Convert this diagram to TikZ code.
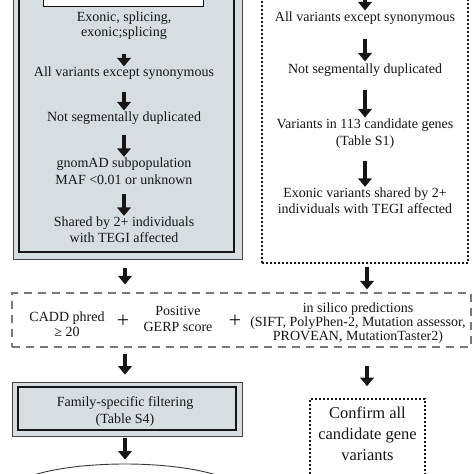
\documentclass[tikz,border=0pt]{standalone}
\usepackage{fontspec}
\setmainfont{Liberation Serif}
\usetikzlibrary{arrows.meta,shapes.geometric}
\definecolor{boxgrey}{RGB}{214,222,226}
\definecolor{ink}{RGB}{22,22,22}
\definecolor{dashgrey}{RGB}{120,120,120}
\tikzset{
  txt/.style={inner sep=0pt, align=center, text=ink, font=\fontsize{14}{16}\selectfont},
  txttight/.style={txt, font=\fontsize{14}{14}\selectfont},
  bigtxt/.style={inner sep=0pt, align=center, text=ink, font=\fontsize{16.5}{21}\selectfont},
  plussign/.style={inner sep=0pt, text=ink, font=\fontsize{22}{22}\selectfont},
  arr/.style={line width=4pt, draw=ink, -{Triangle[width=13.5pt,length=8.5pt]}},
  outerbox/.style={draw=ink!80, line width=0.8pt, fill=boxgrey, inner sep=0pt},
  innerbox/.style={draw=ink, line width=1.6pt, inner sep=0pt},
  whitebox/.style={draw=ink, line width=0.9pt, fill=white, inner sep=0pt},
  dottedbox/.style={draw=ink, line width=1.7pt, dash pattern=on 1.8pt off 2.2pt, inner sep=0pt},
  dashedbox/.style={draw=dashgrey, line width=1.2pt, dash pattern=on 8pt off 6pt, inner sep=0pt},
  ellipsebox/.style={ellipse, draw=ink!85, line width=0.9pt, inner sep=0pt},
}
\begin{document}
\begin{tikzpicture}[x=1pt,y=-1pt]
\useasboundingbox (0,0) rectangle (474,474);
\fill[white] (0,0) rectangle (474,474);
% left grey box
\node[outerbox, minimum width=229pt, minimum height=279pt] (LBout) at (127.5,119.5) {};
\node[innerbox, minimum width=215pt, minimum height=272pt] (LBin) at (126.5,116) {};
\node[whitebox, minimum width=160pt, minimum height=26pt] (WB) at (123,-7) {};
% right dotted box
\node[dottedbox, minimum width=206pt, minimum height=283pt] (RB) at (365,121.5) {};
% dashed box
\node[dashedbox, minimum width=459pt, minimum height=54pt] (DB) at (241.5,320) {};
% family box
\node[outerbox, minimum width=230pt, minimum height=54pt] (FBout) at (127,409) {};
\node[innerbox, minimum width=218pt, minimum height=43pt] (FBin) at (127,408.5) {};
% confirm box
\node[dottedbox, minimum width=115pt, minimum height=101pt] (CB) at (367.5,449.5) {};
% ellipse
\node[ellipsebox, minimum width=236pt, minimum height=60pt] (EL) at (125,494) {};

% left column texts
\node[txt, font=\fontsize{14}{15}\selectfont] (L1) at (124,25.5) {Exonic, splicing,\\exonic;splicing};
\node[txt] (L2) at (124,73) {All variants except synonymous};
\node[txt] (L3) at (124,118) {Not segmentally duplicated};
\node[txt, font=\fontsize{14}{17}\selectfont] (L4) at (124,171.5) {gnomAD subpopulation\\MAF <0.01 or unknown};
\node[txt] (L5) at (124,230) {Shared by 2+ individuals\\with TEGI affected};

\draw[arr, shorten <=14pt] (L1) -- (L2);
\draw[arr, shorten <=12pt, shorten >=1pt] (L2) -- (L3);
\draw[arr, shorten <=10pt, shorten >=1pt] (L3) -- (L4);
\draw[arr, shorten <=9pt, shorten >=1pt] (L4) -- (L5);

% right column texts
\coordinate (RT) at (365,-12);
\node[txt] (R1) at (365,18) {All variants except synonymous};
\node[txt] (R2) at (365,70) {Not segmentally duplicated};
\node[txt, font=\fontsize{14}{17}\selectfont] (R3) at (365,133.5) {Variants in 113 candidate genes\\(Table S1)};
\node[txt] (R4) at (365,201) {Exonic variants shared by 2+\\individuals with TEGI affected};

\draw[arr, shorten >=1pt] (RT) -- (R1);
\draw[arr, shorten <=14pt, shorten >=2pt] (R1) -- (R2);
\draw[arr, shorten <=13pt, shorten >=1pt] (R2) -- (R3);
\draw[arr, shorten <=12pt, shorten >=1pt] (R3) -- (R4);

% dashed box contents
\node[txt, font=\fontsize{14}{15.5}\selectfont] (C1) at (67,324) {CADD phred\\≥ 20};
\node[plussign] (P1) at (123,321) {+};
\node[txt] (C2) at (178,318.5) {Positive\\GERP score};
\node[plussign] (P2) at (235,321) {+};
\node[txttight] (C3) at (358,323) {in silico predictions\\(SIFT, PolyPhen-2, Mutation assessor,\\PROVEAN, MutationTaster2)};

% arrows between boxes
\draw[arr, shorten <=9pt, shorten >=8pt] (LBout.south -| 125,0) -- (DB.north -| 125,0);
\draw[arr, shorten <=3pt, shorten >=3pt] (RB.south -| 367,0) -- (DB.north -| 367,0);
\draw[arr, shorten <=6pt, shorten >=7pt] (DB.south -| 125,0) -- (FBout.north -| 125,0);
\draw[arr, shorten <=18pt, shorten >=12pt] (DB.south -| 367,0) -- (CB.north -| 367,0);
\draw[arr, shorten <=2pt, shorten >=4pt] (FBout.south -| 125,0) -- (EL.north -| 125,0);

% family box text
\node[txt, font=\fontsize{14}{17}\selectfont] (F1) at (125,411.5) {Family-specific filtering\\(Table S4)};

% confirm box text
\node[bigtxt] (CT) at (367.5,434) {Confirm all\\candidate gene\\variants};
\end{tikzpicture}
\end{document}
